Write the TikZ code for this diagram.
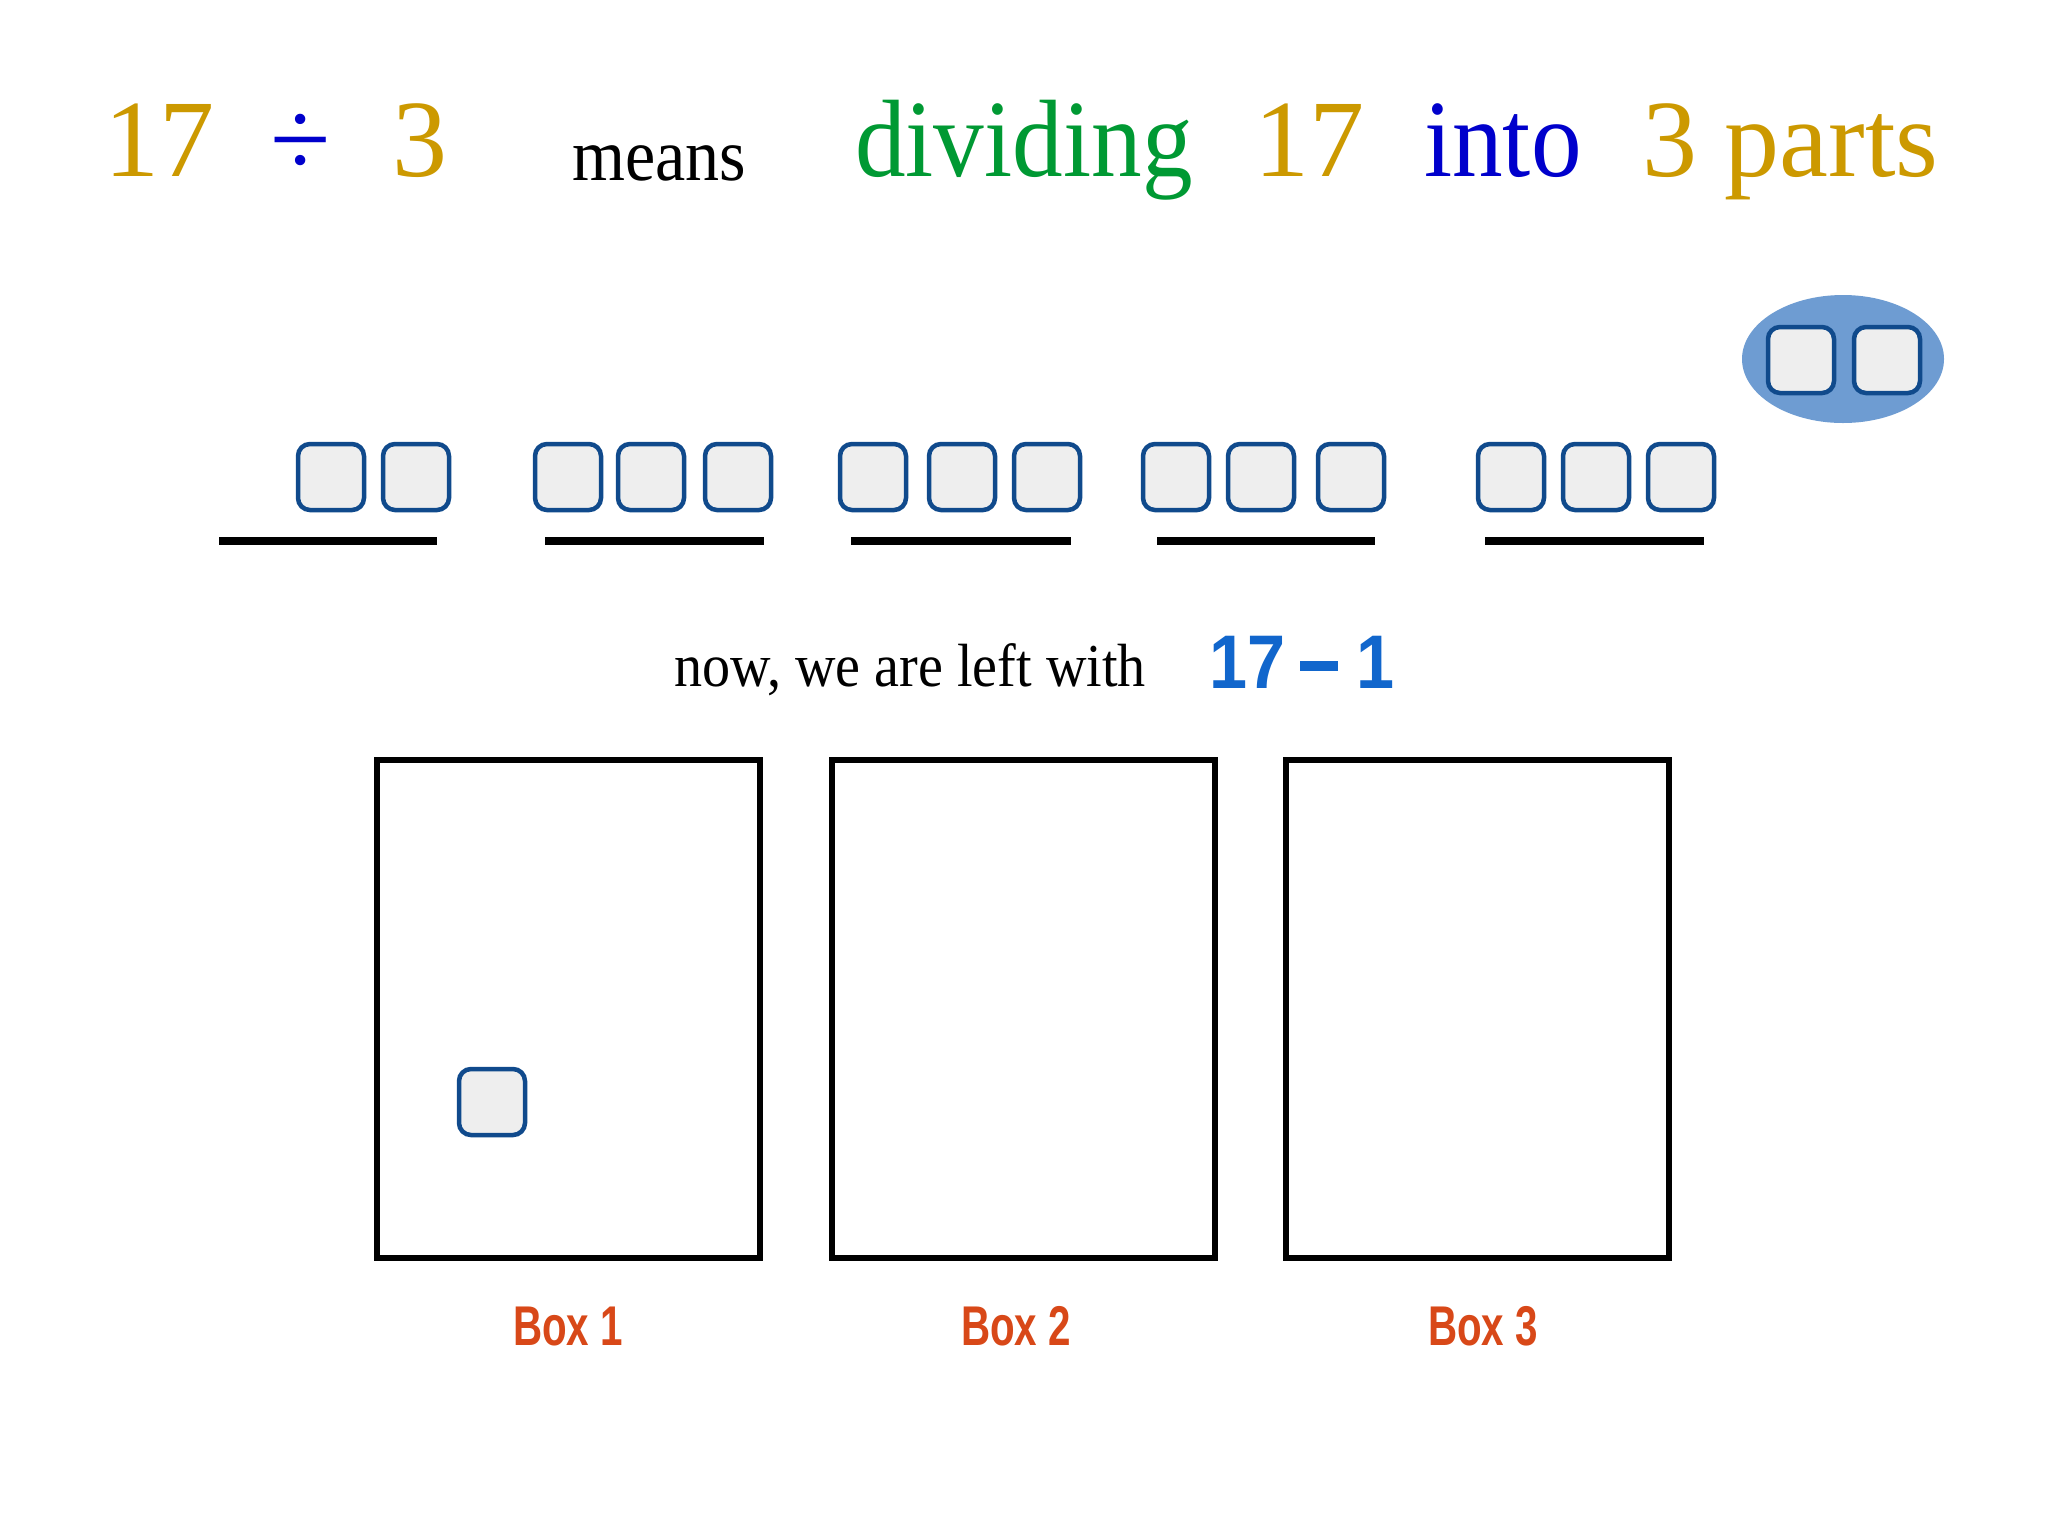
\documentclass[tikz,border=0pt]{standalone}
\usepackage{fontspec}
\setmainfont{Liberation Serif}
\newfontfamily\condserif[FakeStretch=0.92]{Liberation Serif}
\newfontfamily\numfont[FakeStretch=0.9]{Liberation Sans Bold}
\newfontfamily\lblfont[FakeStretch=0.72]{Liberation Sans Bold}
\usetikzlibrary{shapes.geometric}
\definecolor{gold}{RGB}{204,153,0}
\definecolor{grn}{RGB}{0,153,51}
\definecolor{blu}{RGB}{0,0,204}
\definecolor{numblue}{RGB}{17,102,204}
\definecolor{sqblue}{RGB}{16,74,140}
\definecolor{sqfill}{RGB}{238,238,238}
\definecolor{ellfill}{RGB}{110,156,210}
\definecolor{lblred}{RGB}{216,72,24}
\tikzset{
  sq/.style={draw=sqblue, line width=4.5pt, fill=sqfill, rounded corners=12pt, minimum size=66pt, inner sep=0pt},
  bigtxt/.style={anchor=base west, inner sep=0pt, font=\condserif\fontsize{110}{130}\selectfont},
  bignum/.style={anchor=base west, inner sep=0pt, font=\rmfamily\fontsize{110}{130}\selectfont},
  midtxt/.style={anchor=base west, inner sep=0pt, font=\condserif\fontsize{74}{90}\selectfont},
  rule/.style={line width=7.5pt},
  bigbox/.style={draw=black, line width=5.5pt},
  lbl/.style={anchor=base, inner sep=0pt, text=lblred, font=\lblfont\fontsize{56}{66}\selectfont}
}
\begin{document}
\begin{tikzpicture}[x=1pt,y=-1pt]
\useasboundingbox[fill=white] (0,0) rectangle (2048,1535);
% top line
\node[bignum, text=gold] (t17) at (104,176) {17};
\node[bignum, text=blu] (tdiv) at (270,176) {÷};
\node[bignum, text=gold] (t3) at (392,176) {3};
\node[midtxt, text=black] (tmeans) at (572,180) {means};
\node[bigtxt, text=grn] (tdividing) at (855,176) {dividing};
\node[bignum, text=gold] (t17b) at (1254,176) {17};
\node[bigtxt, text=blu] (tinto) at (1424,176) {into};
\node[bignum, text=gold] (tparts) at (1642,176) {3 parts};
% ellipse with two squares
\node[ellipse, fill=ellfill, minimum width=202pt, minimum height=128pt, inner sep=0pt] (ell) at (1843,359) {};
\node[sq] (e1) at (1801,360) {};
\node[sq] (e2) at (1887,360) {};
% row of groups
\foreach \n/\x in {a1/331,a2/416, b1/568,b2/651,b3/738, c1/873,c2/962,c3/1047, d1/1176,d2/1261,d3/1351, f1/1511,f2/1596,f3/1681}
  \node[sq] (\n) at (\x,477) {};
\coordinate (l1a) at (219,541); \coordinate (l1b) at (437,541);
\coordinate (l2a) at (545,541); \coordinate (l2b) at (764,541);
\coordinate (l3a) at (851,541); \coordinate (l3b) at (1071,541);
\coordinate (l4a) at (1157,541); \coordinate (l4b) at (1375,541);
\coordinate (l5a) at (1485,541); \coordinate (l5b) at (1704,541);
\draw[rule] (l1a) -- (l1b);
\draw[rule] (l2a) -- (l2b);
\draw[rule] (l3a) -- (l3b);
\draw[rule] (l4a) -- (l4b);
\draw[rule] (l5a) -- (l5b);
% middle text
\node[anchor=base west, inner sep=0pt, font=\condserif\fontsize{61}{74}\selectfont] (left) at (674,686) {now, we are left with};
\node[anchor=base west, inner sep=0pt, text=numblue, font=\numfont\fontsize{76}{90}\selectfont] (expr) at (1209,688) {17\hspace{0.2em}\rule[0.23em]{0.5em}{0.13em}\hspace{0.24em}1};
% big boxes
\node[bigbox, minimum width=383pt, minimum height=498pt, inner sep=0pt] (box1) at (568.5,1009) {};
\node[bigbox, minimum width=383pt, minimum height=498pt, inner sep=0pt] (box2) at (1023.5,1009) {};
\node[bigbox, minimum width=383pt, minimum height=498pt, inner sep=0pt] (box3) at (1477.5,1009) {};
\node[sq] (s1) at (492,1102) {};
% labels
\node[lbl] (lb1) at (568,1345) {Box 1};
\node[lbl] (lb2) at (1016,1345) {Box 2};
\node[lbl] (lb3) at (1483,1345) {Box 3};
\end{tikzpicture}
\end{document}
